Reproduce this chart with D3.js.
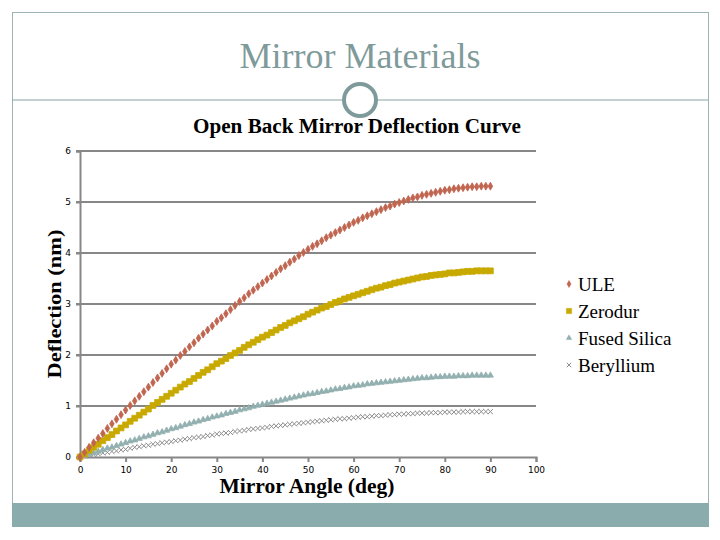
<!DOCTYPE html>
<html>
<head>
<meta charset="utf-8">
<script src="https://cdn.jsdelivr.net/npm/d3@7"></script>
<style>
  body { margin: 0; background: #fff; }
  svg { display: block; }
</style>
</head>
<body>
<div id="chart"></div>
<script>
// deflection (nm), one point per degree from 0 to 90
const angles = d3.range(0, 91);

const ule = [0, 0.09, 0.19, 0.28, 0.37, 0.46, 0.56, 0.65, 0.74, 0.83,
  0.92, 1.01, 1.10, 1.19, 1.28, 1.37, 1.46, 1.55, 1.64, 1.73,
  1.82, 1.90, 1.99, 2.07, 2.16, 2.24, 2.33, 2.41, 2.49, 2.57,
  2.66, 2.73, 2.81, 2.89, 2.97, 3.05, 3.12, 3.20, 3.27, 3.34,
  3.41, 3.48, 3.55, 3.62, 3.69, 3.75, 3.82, 3.88, 3.95, 4.01,
  4.07, 4.13, 4.18, 4.24, 4.30, 4.35, 4.40, 4.45, 4.50, 4.55,
  4.60, 4.64, 4.69, 4.73, 4.77, 4.81, 4.85, 4.89, 4.92, 4.96,
  4.99, 5.02, 5.05, 5.08, 5.10, 5.13, 5.15, 5.17, 5.19, 5.21,
  5.23, 5.24, 5.26, 5.27, 5.28, 5.29, 5.30, 5.30, 5.31, 5.31, 5.31];

const zerodur = [0, 0.06, 0.13, 0.19, 0.25, 0.32, 0.38, 0.44, 0.51, 0.57,
  0.63, 0.70, 0.76, 0.82, 0.88, 0.94, 1.01, 1.07, 1.13, 1.19,
  1.25, 1.31, 1.37, 1.43, 1.48, 1.54, 1.60, 1.66, 1.71, 1.77,
  1.83, 1.88, 1.93, 1.99, 2.04, 2.09, 2.15, 2.20, 2.25, 2.30,
  2.35, 2.39, 2.44, 2.49, 2.54, 2.58, 2.63, 2.67, 2.71, 2.75,
  2.80, 2.84, 2.88, 2.92, 2.95, 2.99, 3.03, 3.06, 3.10, 3.13,
  3.16, 3.19, 3.22, 3.25, 3.28, 3.31, 3.33, 3.36, 3.38, 3.41,
  3.43, 3.45, 3.47, 3.49, 3.51, 3.53, 3.54, 3.56, 3.57, 3.58,
  3.59, 3.61, 3.61, 3.62, 3.63, 3.64, 3.64, 3.65, 3.65, 3.65, 3.65];

const fusedSilica = [0, 0.03, 0.06, 0.08, 0.11, 0.14, 0.17, 0.19, 0.22, 0.25,
  0.28, 0.31, 0.33, 0.36, 0.39, 0.41, 0.44, 0.47, 0.49, 0.52,
  0.55, 0.57, 0.60, 0.63, 0.65, 0.68, 0.70, 0.73, 0.75, 0.78,
  0.80, 0.82, 0.85, 0.87, 0.89, 0.92, 0.94, 0.96, 0.99, 1.01,
  1.03, 1.05, 1.07, 1.09, 1.11, 1.13, 1.15, 1.17, 1.19, 1.21,
  1.23, 1.24, 1.26, 1.28, 1.29, 1.31, 1.33, 1.34, 1.36, 1.37,
  1.39, 1.40, 1.41, 1.43, 1.44, 1.45, 1.46, 1.47, 1.48, 1.49,
  1.50, 1.51, 1.52, 1.53, 1.54, 1.55, 1.55, 1.56, 1.57, 1.57,
  1.58, 1.58, 1.58, 1.59, 1.59, 1.59, 1.60, 1.60, 1.60, 1.60, 1.60];

const beryllium = [0, 0.02, 0.03, 0.05, 0.06, 0.08, 0.09, 0.11, 0.12, 0.14,
  0.15, 0.17, 0.19, 0.20, 0.22, 0.23, 0.25, 0.26, 0.28, 0.29,
  0.30, 0.32, 0.33, 0.35, 0.36, 0.38, 0.39, 0.40, 0.42, 0.43,
  0.45, 0.46, 0.47, 0.48, 0.50, 0.51, 0.52, 0.54, 0.55, 0.56,
  0.57, 0.58, 0.60, 0.61, 0.62, 0.63, 0.64, 0.65, 0.66, 0.67,
  0.68, 0.69, 0.70, 0.71, 0.72, 0.73, 0.74, 0.75, 0.75, 0.76,
  0.77, 0.78, 0.79, 0.79, 0.80, 0.81, 0.81, 0.82, 0.83, 0.83,
  0.84, 0.84, 0.85, 0.85, 0.86, 0.86, 0.86, 0.87, 0.87, 0.87,
  0.88, 0.88, 0.88, 0.88, 0.89, 0.89, 0.89, 0.89, 0.89, 0.89, 0.89];

const seriesNames = ["ULE", "Zerodur", "Fused Silica", "Beryllium"];
const seriesValues = [ule, zerodur, fusedSilica, beryllium];
const xTicks = [0, 10, 20, 30, 40, 50, 60, 70, 80, 90, 100];
const yTicks = [0, 1, 2, 3, 4, 5, 6];

const W = 720, H = 540;
const teal = "#8aacac";
const greyTeal = "#7f9a9a";
const serif = "'Liberation Serif', 'DejaVu Serif', serif";

const styles = {
  "ULE": { color: "#c0654f", symbol: d3.symbolDiamond, size: 18 },
  "Zerodur": { color: "#c8a900", symbol: d3.symbolSquare, size: 34 },
  "Fused Silica": { color: "#93b0b0", symbol: d3.symbolTriangle, size: 16 },
  "Beryllium": { color: "#8c8c8c", symbol: d3.symbolX, size: 18 }
};

const svg = d3.select("#chart").append("svg")
  .attr("width", W)
  .attr("height", H);

// slide frame, header rule with the ring, footer band
svg.append("rect")
  .attr("x", 12.5).attr("y", 12.5)
  .attr("width", 696).attr("height", 514)
  .attr("fill", "none")
  .attr("stroke", "#9db3b3")
  .attr("stroke-width", 1);

svg.append("rect")
  .attr("x", 12).attr("y", 503)
  .attr("width", 697).attr("height", 24)
  .attr("fill", teal);

svg.append("line")
  .attr("x1", 12).attr("x2", 708)
  .attr("y1", 100).attr("y2", 100)
  .attr("stroke", "#8aa3a3")
  .attr("stroke-width", 1);

svg.append("circle")
  .attr("cx", 360).attr("cy", 100).attr("r", 16)
  .attr("fill", "#fff")
  .attr("stroke", greyTeal)
  .attr("stroke-width", 4);

svg.append("text")
  .attr("x", 360).attr("y", 68)
  .attr("text-anchor", "middle")
  .attr("font-family", serif)
  .attr("font-size", 36)
  .attr("fill", greyTeal)
  .text("Mirror Materials");

svg.append("text")
  .attr("x", 357).attr("y", 133)
  .attr("text-anchor", "middle")
  .attr("font-family", serif)
  .attr("font-weight", "bold")
  .attr("font-size", 20)
  .attr("textLength", 328)
  .attr("lengthAdjust", "spacingAndGlyphs")
  .attr("fill", "#000")
  .text("Open Back Mirror Deflection Curve");

// plot area
const x = d3.scaleLinear().domain([0, 100]).range([80, 536]);
const y = d3.scaleLinear().domain([0, 6]).range([457, 151]);

const grid = svg.append("g");
grid.selectAll("line")
  .data(yTicks.filter(d => d > 0))
  .join("line")
  .attr("x1", x(0) - 4).attr("x2", x(100))
  .attr("y1", d => y(d)).attr("y2", d => y(d))
  .attr("stroke", "#878787")
  .attr("stroke-width", 2);

const xAxis = svg.append("g")
  .attr("transform", `translate(0,${y(0)})`)
  .call(d3.axisBottom(x).tickValues(xTicks).tickFormat(d3.format("d")).tickSize(5).tickPadding(5));

const yAxis = svg.append("g")
  .attr("transform", `translate(${x(0)},0)`)
  .call(d3.axisLeft(y).tickValues(yTicks).tickFormat(d3.format("d")).tickSize(4).tickPadding(5));

[xAxis, yAxis].forEach(a => {
  a.select(".domain").attr("stroke", "#878787").attr("stroke-width", 2);
  a.selectAll(".tick line").attr("stroke", "#878787").attr("stroke-width", 2);
  a.selectAll(".tick text")
    .attr("font-family", "'DejaVu Sans', sans-serif")
    .attr("font-size", 9)
    .attr("fill", "#000");
});

svg.append("text")
  .attr("transform", `translate(61,${(y(0) + y(6)) / 2}) rotate(-90)`)
  .attr("text-anchor", "middle")
  .attr("font-family", serif)
  .attr("font-weight", "bold")
  .attr("font-size", 19)
  .attr("textLength", 149)
  .attr("lengthAdjust", "spacingAndGlyphs")
  .text("Deflection (nm)");

svg.append("text")
  .attr("x", 307).attr("y", 493)
  .attr("text-anchor", "middle")
  .attr("font-family", serif)
  .attr("font-weight", "bold")
  .attr("font-size", 21)
  .attr("textLength", 175)
  .attr("lengthAdjust", "spacingAndGlyphs")
  .text("Mirror Angle (deg)");

// markers, drawn back to front so ULE stays on top
const series = seriesNames.map((name, i) => ({
  name: name,
  points: angles.map((a, j) => ({ a: a, v: seriesValues[i][j] }))
}));

const marks = svg.append("g");
series.slice().reverse().forEach(s => {
  const st = styles[s.name];
  const sym = d3.symbol().type(st.symbol).size(st.size);
  marks.append("g")
    .selectAll("path")
    .data(s.points)
    .join("path")
    .attr("transform", d => `translate(${x(d.a)},${y(d.v)})`)
    .attr("d", sym)
    .attr("fill", st.symbol === d3.symbolX ? "none" : st.color)
    .attr("stroke", st.color)
    .attr("stroke-width", st.symbol === d3.symbolX ? 1 : 0.8);
});

// legend
const legend = svg.append("g").attr("transform", "translate(569,284)");
seriesNames.forEach((name, i) => {
  const st = styles[name];
  const row = legend.append("g").attr("transform", `translate(0,${i * 27})`);
  row.append("path")
    .attr("d", d3.symbol().type(st.symbol).size(st.size * 0.8)())
    .attr("fill", st.symbol === d3.symbolX ? "none" : st.color)
    .attr("stroke", st.color)
    .attr("stroke-width", st.symbol === d3.symbolX ? 1 : 0.5);
  row.append("text")
    .attr("x", 9).attr("y", 7)
    .attr("font-family", serif)
    .attr("font-size", 19)
    .text(name);
});
</script>
</body>
</html>
